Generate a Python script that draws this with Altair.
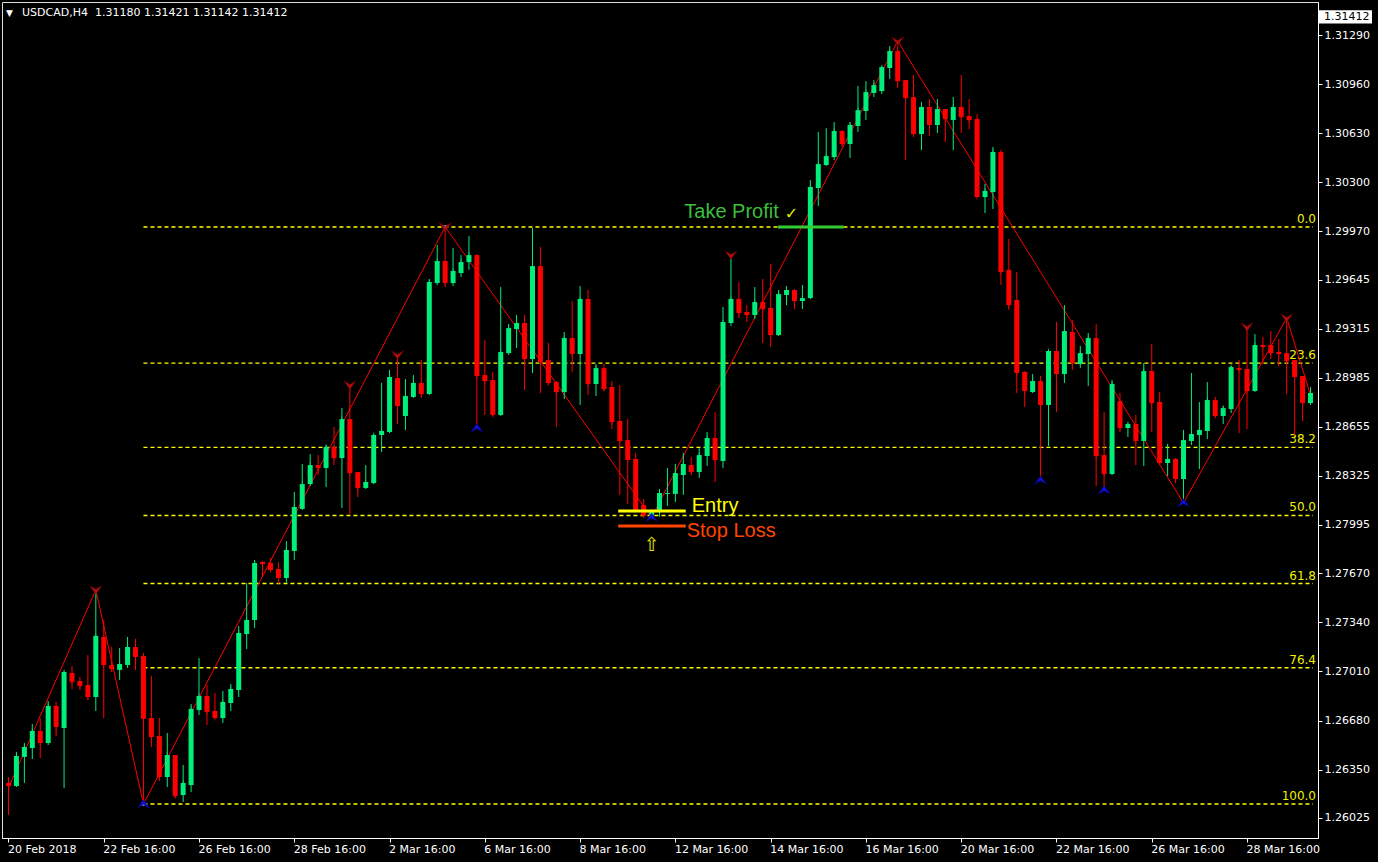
import altair as alt
import pandas as pd

# ---- USDCAD H4 candles (bar index 0 = 20 Feb 2018) ----
opens = [1.26260, 1.26240, 1.26435, 1.26495, 1.26609, 1.26529, 1.26778, 1.26630, 1.27000, 1.26946,
         1.26919, 1.26838, 1.27242, 1.27053, 1.27020, 1.27053, 1.27174, 1.27114, 1.26697, 1.26576,
         1.26300, 1.26448, 1.26179, 1.26246, 1.26751, 1.26845, 1.26744, 1.26697, 1.26798, 1.26885,
         1.27262, 1.27356, 1.27746, 1.27739, 1.27699, 1.27638, 1.27820, 1.28103, 1.28270, 1.28398,
         1.28378, 1.28519, 1.28445, 1.28707, 1.28351, 1.28244, 1.28277, 1.28600, 1.28620, 1.28983,
         1.28728, 1.28856, 1.28950, 1.28876, 1.29622, 1.29770, 1.29622, 1.29689, 1.29763, 1.29810,
         1.29003, 1.28970, 1.28735, 1.29151, 1.29313, 1.29353, 1.29111, 1.29736, 1.29104, 1.28956,
         1.28889, 1.29252, 1.29145, 1.29515, 1.28943, 1.29050, 1.28923, 1.28694, 1.28566, 1.28439,
         1.28129, 1.28058, 1.28082, 1.28204, 1.28204, 1.28331, 1.28398, 1.28351, 1.28459, 1.28580,
         1.28425, 1.29353, 1.29515, 1.29427, 1.29407, 1.29494, 1.29454, 1.29272, 1.29542, 1.29575,
         1.29501, 1.29521, 1.30261, 1.30416, 1.30469, 1.30644, 1.30557, 1.30678, 1.30779, 1.30900,
         1.30913, 1.31068, 1.31182, 1.30987, 1.30873, 1.30624, 1.30806, 1.30685, 1.30792, 1.30718,
         1.30806, 1.30745, 1.30725, 1.30200, 1.30234, 1.30503, 1.29710, 1.29508, 1.29024, 1.28889,
         1.28963, 1.28802, 1.29165, 1.29010, 1.29293, 1.29077, 1.29145, 1.29252, 1.28465, 1.28338,
         1.28828, 1.28647, 1.28674, 1.28560, 1.29030, 1.28822, 1.28412, 1.28439, 1.28304, 1.28560,
         1.28600, 1.28627, 1.28835, 1.28728, 1.28775, 1.29050, 1.29044, 1.28896, 1.29205, 1.29205,
         1.29158, 1.29151, 1.29104, 1.28997, 1.28815]
highs = [1.26300, 1.26469, 1.26529, 1.26657, 1.26697, 1.26811, 1.26805, 1.27013, 1.27047, 1.26973,
         1.27120, 1.27558, 1.27356, 1.27174, 1.27168, 1.27242, 1.27229, 1.27134, 1.26980, 1.26697,
         1.26596, 1.26448, 1.26381, 1.26791, 1.27100, 1.26919, 1.26865, 1.26879, 1.26926, 1.27316,
         1.27605, 1.27759, 1.27753, 1.27773, 1.27746, 1.27887, 1.28217, 1.28405, 1.28472, 1.28465,
         1.28533, 1.28654, 1.28781, 1.28936, 1.28351, 1.28398, 1.28607, 1.28950, 1.29037, 1.29138,
         1.28976, 1.29003, 1.29104, 1.29649, 1.29878, 1.29999, 1.29857, 1.29810, 1.29938, 1.29817,
         1.29239, 1.29024, 1.29595, 1.29346, 1.29407, 1.29407, 1.29992, 1.29864, 1.29219, 1.28963,
         1.29293, 1.29501, 1.29602, 1.29575, 1.29077, 1.29077, 1.28963, 1.28936, 1.28707, 1.28479,
         1.28170, 1.28096, 1.28237, 1.28378, 1.28405, 1.28479, 1.28452, 1.28512, 1.28620, 1.28754,
         1.29461, 1.29810, 1.29629, 1.29474, 1.29595, 1.29649, 1.29750, 1.29575, 1.29602, 1.29582,
         1.29609, 1.30315, 1.30638, 1.30664, 1.30705, 1.30651, 1.30705, 1.30947, 1.30980, 1.30987,
         1.31081, 1.31216, 1.31249, 1.30987, 1.31021, 1.30839, 1.30859, 1.30859, 1.30792, 1.30873,
         1.31021, 1.30859, 1.30758, 1.30288, 1.30537, 1.30516, 1.29918, 1.29696, 1.29030, 1.29010,
         1.28997, 1.29172, 1.29360, 1.29474, 1.29373, 1.29199, 1.29286, 1.29346, 1.28754, 1.28970,
         1.28883, 1.28681, 1.28735, 1.29084, 1.29212, 1.28889, 1.28540, 1.28445, 1.28634, 1.29017,
         1.28822, 1.28956, 1.28856, 1.28795, 1.29064, 1.29104, 1.29326, 1.29279, 1.29259, 1.29299,
         1.29246, 1.29387, 1.29104, 1.28997, 1.28923]
lows = [1.26045, 1.26233, 1.26260, 1.26421, 1.26428, 1.26515, 1.26576, 1.26226, 1.26892, 1.26885,
        1.26818, 1.26744, 1.26697, 1.27007, 1.26953, 1.27033, 1.27020, 1.26119, 1.26502, 1.26273,
        1.26233, 1.26159, 1.26132, 1.26199, 1.26717, 1.26650, 1.26691, 1.26664, 1.26744, 1.26838,
        1.27161, 1.27302, 1.27645, 1.27685, 1.27598, 1.27605, 1.27759, 1.28096, 1.28257, 1.28331,
        1.28250, 1.28398, 1.28109, 1.28069, 1.28183, 1.28237, 1.28270, 1.28486, 1.28613, 1.28674,
        1.28634, 1.28849, 1.28849, 1.28869, 1.29609, 1.29595, 1.29602, 1.29662, 1.29710, 1.28647,
        1.28735, 1.28728, 1.28728, 1.29138, 1.29185, 1.28903, 1.29017, 1.28883, 1.28936, 1.28654,
        1.28842, 1.29024, 1.28802, 1.28869, 1.28862, 1.28896, 1.28640, 1.28197, 1.28136, 1.28089,
        1.28050, 1.28045, 1.28050, 1.28123, 1.28150, 1.28197, 1.28331, 1.28311, 1.28392, 1.28284,
        1.28378, 1.29333, 1.29387, 1.29360, 1.29380, 1.29219, 1.29192, 1.29266, 1.29474, 1.29447,
        1.29447, 1.29514, 1.30140, 1.30409, 1.30449, 1.30537, 1.30463, 1.30638, 1.30718, 1.30873,
        1.30893, 1.30994, 1.30933, 1.30449, 1.30604, 1.30516, 1.30611, 1.30631, 1.30570, 1.30516,
        1.30631, 1.30658, 1.30200, 1.30093, 1.30120, 1.29609, 1.29441, 1.28883, 1.28788, 1.28883,
        1.28297, 1.28526, 1.28754, 1.28950, 1.29037, 1.29050, 1.28929, 1.28257, 1.28230, 1.28331,
        1.28620, 1.28587, 1.28398, 1.28392, 1.28620, 1.28405, 1.28324, 1.28277, 1.28143, 1.28533,
        1.28371, 1.28573, 1.28721, 1.28674, 1.28748, 1.28613, 1.28640, 1.28889, 1.29077, 1.29111,
        1.29064, 1.28876, 1.28600, 1.28694, 1.28802]
closes = [1.26240, 1.26442, 1.26502, 1.26609, 1.26529, 1.26778, 1.26637, 1.27007, 1.26940, 1.26913,
          1.26838, 1.27249, 1.27053, 1.27027, 1.27060, 1.27174, 1.27107, 1.26691, 1.26569, 1.26300,
          1.26448, 1.26173, 1.26260, 1.26758, 1.26845, 1.26738, 1.26697, 1.26805, 1.26892, 1.27269,
          1.27356, 1.27739, 1.27732, 1.27692, 1.27638, 1.27827, 1.28116, 1.28270, 1.28398, 1.28378,
          1.28519, 1.28445, 1.28707, 1.28344, 1.28244, 1.28284, 1.28600, 1.28627, 1.28990, 1.28795,
          1.28862, 1.28950, 1.28876, 1.29629, 1.29770, 1.29622, 1.29703, 1.29763, 1.29810, 1.28997,
          1.28963, 1.28735, 1.29158, 1.29319, 1.29353, 1.29111, 1.29736, 1.29091, 1.28950, 1.28889,
          1.29252, 1.29145, 1.29515, 1.28943, 1.29050, 1.28909, 1.28687, 1.28560, 1.28432, 1.28096,
          1.28058, 1.28082, 1.28210, 1.28210, 1.28344, 1.28405, 1.28351, 1.28465, 1.28580, 1.28432,
          1.29360, 1.29515, 1.29420, 1.29407, 1.29494, 1.29447, 1.29272, 1.29548, 1.29575, 1.29501,
          1.29521, 1.30268, 1.30422, 1.30476, 1.30644, 1.30557, 1.30685, 1.30785, 1.30906, 1.30953,
          1.31074, 1.31182, 1.30980, 1.30866, 1.30624, 1.30806, 1.30685, 1.30792, 1.30725, 1.30806,
          1.30738, 1.30718, 1.30200, 1.30241, 1.30503, 1.29696, 1.29474, 1.29017, 1.28896, 1.28963,
          1.28802, 1.29165, 1.29010, 1.29299, 1.29084, 1.29151, 1.29252, 1.28459, 1.28338, 1.28943,
          1.28647, 1.28674, 1.28560, 1.29030, 1.28815, 1.28412, 1.28439, 1.28304, 1.28566, 1.28607,
          1.28634, 1.28835, 1.28728, 1.28781, 1.29057, 1.29037, 1.28896, 1.29205, 1.29192, 1.29151,
          1.29145, 1.29098, 1.28990, 1.28815, 1.28883]

# ---- ZigZag swing points (bar, price) ----
zz_bars = [0, 11, 17, 55, 81, 112, 148, 161, 164]
zz_prices = [1.26227, 1.27558, 1.26119, 1.29999, 1.28045, 1.31249, 1.28143, 1.29387, 1.28869]

# ---- fractal-style arrows ----
top_bars = [11, 43, 49, 55, 91, 112, 156, 161]
bottom_bars = [17, 59, 81, 130, 138, 148]

# ---- Fibonacci retracement of the 17 -> 55 swing ----
fib_from_bar = 17
fib_high = 1.29999
fib_low = 1.26119
fib_pcts = [0.0, 23.6, 38.2, 50.0, 61.8, 76.4, 100.0]

# ---- trade levels ----
entry_price = 1.28089
stop_price = 1.27988
tp_price = 1.29999
trade_bars = [76.8, 85.3]
tp_bars = [96.9, 105.2]
signal_bar = 81

# ---- axes ----
price_ticks = [1.31290, 1.30960, 1.30630, 1.30300, 1.29970, 1.29645, 1.29315, 1.28985,
               1.28655, 1.28325, 1.27995, 1.27670, 1.27340, 1.27010, 1.26680, 1.26350, 1.26025]
date_bars = [0, 12, 24, 36, 48, 60, 72, 84, 96, 108, 120, 132, 144, 156]
date_labels = ["20 Feb 2018", "22 Feb 16:00", "26 Feb 16:00", "28 Feb 16:00", "2 Mar 16:00",
               "6 Mar 16:00", "8 Mar 16:00", "12 Mar 16:00", "14 Mar 16:00", "16 Mar 16:00",
               "20 Mar 16:00", "22 Mar 16:00", "26 Mar 16:00", "28 Mar 16:00"]
header = "USDCAD,H4\u00a0\u00a01.31180 1.31421 1.31142 1.31412"
last_price = 1.31412

X_DOMAIN = [-0.1875, 164.3125]
Y_DOMAIN = [1.25890, 1.31512]
GREEN = "#00ee7a"
RED = "#ff0000"
YELLOW = "#ffff00"
ORANGE = "#ff4500"
FONT = "DejaVu Sans"

label_expr = "[" + ",".join("'%s'" % s for s in date_labels) + "][indexof([" + \
    ",".join(str(b) for b in date_bars) + "], datum.value)]"

X_AXIS = alt.Axis(values=date_bars, labelExpr=label_expr, orient="bottom", title=None,
                  grid=False, labelColor="white", tickColor="white", domainColor="white",
                  tickSize=4, labelPadding=7, labelBaseline="middle", labelAlign="left",
                  labelOffset=-1, labelFont=FONT, labelFontSize=11, labelOverlap=False,
                  labelFlush=False)
Y_AXIS = alt.Axis(values=price_ticks, format=".5f", orient="right", title=None, grid=False,
                  labelColor="white", tickColor="white", domainColor="white", tickSize=4,
                  labelPadding=2, labelFont=FONT, labelFontSize=11, labelOverlap=False,
                  labelFlush=False)


def xenc(field):
    return alt.X(field, type="quantitative",
                 scale=alt.Scale(domain=X_DOMAIN, nice=False, zero=False), axis=X_AXIS)


def yenc(field):
    return alt.Y(field, type="quantitative",
                 scale=alt.Scale(domain=Y_DOMAIN, nice=False, zero=False), axis=Y_AXIS)


bars = pd.DataFrame({"bar": list(range(len(opens))), "open": opens, "high": highs,
                     "low": lows, "close": closes})
bars["dir"] = ["up" if c >= o else "down" for o, c in zip(opens, closes)]
dir_color = alt.Color("dir:N", scale=alt.Scale(domain=["up", "down"], range=[GREEN, RED]),
                      legend=None)

wicks = alt.Chart(bars).mark_rule(strokeWidth=1).encode(
    x=xenc("bar"), y=yenc("low"), y2="high", color=dir_color)
bodies = alt.Chart(bars).mark_bar(size=5).encode(
    x=xenc("bar"), y=yenc("open"), y2="close", color=dir_color)
body_caps = alt.Chart(bars).mark_tick(thickness=1, size=5).encode(
    x=xenc("bar"), y=yenc("close"), color=dir_color)

# Fibonacci levels
fib = pd.DataFrame({
    "pct": fib_pcts,
    "price": [fib_high - p / 100.0 * (fib_high - fib_low) for p in fib_pcts],
    "start": fib_from_bar,
    "end": X_DOMAIN[1],
})
fib["label"] = ["%.1f" % p for p in fib_pcts]
fib_lines = alt.Chart(fib).mark_rule(color=YELLOW, strokeWidth=1.4, strokeDash=[4, 3]).encode(
    x=xenc("start"), x2="end", y=yenc("price"))
fib_text = alt.Chart(fib).mark_text(color="#f0f000", align="right", baseline="bottom",
                                    dx=3, dy=-1, font=FONT, fontSize=12).encode(
    x=xenc("end"), y=yenc("price"), text="label")

# ZigZag
zz = pd.DataFrame({"bar": zz_bars, "price": zz_prices})
zigzag = alt.Chart(zz).mark_line(color="#ff0000", strokeWidth=1).encode(
    x=xenc("bar"), y=yenc("price"))
zz_nodes = alt.Chart(zz[zz["bar"].isin([17, 55])]).mark_square(
    size=10, color="white", opacity=1).encode(x=xenc("bar"), y=yenc("price"))

# Swing arrows
tops = pd.DataFrame({"bar": top_bars, "price": [highs[b] for b in top_bars]})
bottoms = pd.DataFrame({"bar": bottom_bars, "price": [lows[b] for b in bottom_bars]})
top_arrows = alt.Chart(tops).mark_point(
    shape="M-1,-0.7L0,-0.1L1,-0.7L0,0.7Z", filled=True, size=144, fill="#b01010",
    stroke="#6a0000", strokeWidth=0.6, opacity=1).encode(x=xenc("bar"), y=yenc("price"))
bottom_arrows = alt.Chart(bottoms).mark_point(
    shape="M-1,0.7L0,0.1L1,0.7L0,-0.7Z", filled=True, size=144, fill="#1010e0",
    stroke="#000080", strokeWidth=0.6, opacity=1).encode(x=xenc("bar"), y=yenc("price"))

# Trade levels
levels = pd.DataFrame({
    "name": ["Entry", "Stop Loss", "Take Profit"],
    "price": [entry_price, stop_price, tp_price],
    "x1": [trade_bars[0], trade_bars[0], tp_bars[0]],
    "x2": [trade_bars[1], trade_bars[1], tp_bars[1]],
})
entry_row = levels[levels["name"] == "Entry"]
stop_row = levels[levels["name"] == "Stop Loss"]
tp_row = levels[levels["name"] == "Take Profit"]

entry_line = alt.Chart(entry_row).mark_rule(strokeWidth=3, color=YELLOW).encode(
    x=xenc("x1"), x2="x2", y=yenc("price"))
stop_line = alt.Chart(stop_row).mark_rule(strokeWidth=3, color=ORANGE).encode(
    x=xenc("x1"), x2="x2", y=yenc("price"))
tp_line = alt.Chart(tp_row).mark_rule(strokeWidth=3, color="#33cc33").encode(
    x=xenc("x1"), x2="x2", y=yenc("price"))

entry_txt = alt.Chart(entry_row).mark_text(
    align="left", baseline="alphabetic", dx=6, dy=1, font="Liberation Sans", fontSize=20,
    color=YELLOW).encode(x=xenc("x2"), y=yenc("price"), text="name")
stop_txt = alt.Chart(stop_row).mark_text(
    align="left", baseline="alphabetic", dx=1, dy=11, font="Liberation Sans", fontSize=20,
    color=ORANGE).encode(x=xenc("x2"), y=yenc("price"), text="name")
tp_txt = alt.Chart(tp_row).mark_text(
    align="right", baseline="alphabetic", dx=1, dy=-9, font="Liberation Sans", fontSize=20,
    color="#3cbf3c").encode(x=xenc("x1"), y=yenc("price"), text="name")
tp_tick = alt.Chart(tp_row).mark_text(
    align="left", baseline="alphabetic", dx=7, dy=-8, font=FONT, fontSize=16,
    color="#e6e600", text="\u2713").encode(x=xenc("x1"), y=yenc("price"))

signal = pd.DataFrame({"bar": [signal_bar], "price": [lows[signal_bar]]})
signal_arrow = alt.Chart(signal).mark_text(
    text="\u21e7", color="#e6e600", font=FONT, fontSize=19, baseline="middle",
    dy=27).encode(x=xenc("bar"), y=yenc("price"))

# Header and current price tag
head = pd.DataFrame({"t": [header]})
head_tri = alt.Chart(head).mark_text(
    text="\u25bc", color="white", font=FONT, fontSize=9, align="left",
    baseline="middle").encode(x=alt.value(4), y=alt.value(11))
head_txt = alt.Chart(head).mark_text(
    color="white", font=FONT, fontSize=11, align="left", baseline="middle").encode(
    text="t", x=alt.value(20), y=alt.value(11))

tag = pd.DataFrame({"price": [last_price], "t": ["%.5f" % last_price]})
tag_box = alt.Chart(tag).mark_point(
    shape="M-1,-0.25H1V0.25H-1Z", filled=True, size=2809, fill="white", opacity=1,
    strokeWidth=0).encode(x=alt.value(1343.5), y=yenc("price"))
tag_txt = alt.Chart(tag).mark_text(
    color="black", font=FONT, fontSize=11, align="left", baseline="middle").encode(
    text="t", x=alt.value(1322), y=yenc("price"))

chart = alt.layer(
    fib_lines, fib_text, zigzag, wicks, bodies, body_caps, zz_nodes,
    top_arrows, bottom_arrows, entry_line, stop_line, tp_line,
    entry_txt, stop_txt, tp_txt, tp_tick,
    signal_arrow, head_tri, head_txt, tag_box, tag_txt,
).properties(
    width=1316, height=836,
    autosize=alt.AutoSizeParams(type="none"),
    padding={"left": 2, "top": 2, "right": 60, "bottom": 24},
    background="black",
).configure_view(stroke="white", strokeWidth=1, fill="black").configure(font=FONT)

chart.save("out.html", embed_options={"renderer": "svg", "actions": False})
